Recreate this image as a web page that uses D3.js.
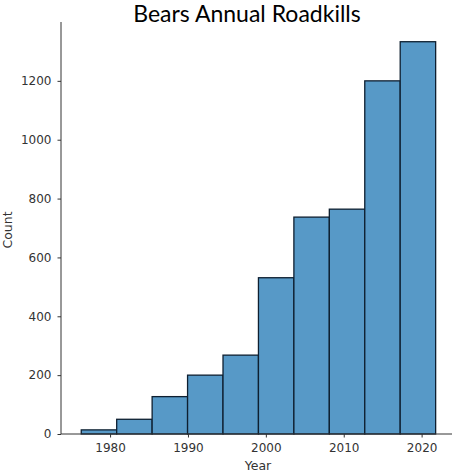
<!DOCTYPE html>
<html>
<head>
<meta charset="utf-8">
<script src="https://cdn.jsdelivr.net/npm/d3@7"></script>
<style>
  body { margin: 0; background: #fff; }
  .tick text { font-family: "DejaVu Sans", sans-serif; font-size: 12px; fill: #333; }
  .tick line { stroke: #333; }
  .domain { stroke: #333; }
</style>
</head>
<body>
<script>
// bin edges (years) and counts per bin
var binStart = 1976.3;
var binWidth = 4.55;
var counts = [14, 50, 127, 200, 268, 531, 737, 764, 1200, 1333];
var xTicks = [1980, 1990, 2000, 2010, 2020];
var yTicks = [0, 200, 400, 600, 800, 1000, 1200];

var bins = counts.map(function(c, i) {
    return { x0: binStart + i * binWidth, x1: binStart + (i + 1) * binWidth, count: c };
});

var svg = d3.select("body").append("svg")
    .attr("width", 474)
    .attr("height", 474);

var x = d3.scaleLinear().domain([1973.7, 2023.9]).range([61, 452]);
var y = d3.scaleLinear().domain([0, 1400]).range([434, 22]);

svg.selectAll("rect.bar")
    .data(bins)
    .enter()
    .append("rect")
    .attr("class", "bar")
    .attr("x", function(d) { return x(d.x0); })
    .attr("width", function(d) { return x(d.x1) - x(d.x0); })
    .attr("y", function(d) { return y(d.count); })
    .attr("height", function(d) { return y(0) - y(d.count); })
    .attr("fill", "#5799c7")
    .attr("stroke", "#0e1f30")
    .attr("stroke-width", 1.3);

svg.append("g")
    .attr("transform", "translate(0,434)")
    .call(d3.axisBottom(x).tickValues(xTicks).tickFormat(d3.format("d")).tickSize(3.5).tickPadding(6))
    .call(function(g) { g.select(".domain").attr("d", "M61,0H452"); });

svg.append("g")
    .attr("transform", "translate(61,0)")
    .call(d3.axisLeft(y).tickValues(yTicks).tickFormat(d3.format("d")).tickSize(3.5).tickPadding(6))
    .call(function(g) { g.select(".domain").attr("d", "M0,22V434"); });

svg.append("text")
    .attr("x", 247)
    .attr("y", 22)
    .attr("text-anchor", "middle")
    .style("font-family", "Lato, sans-serif")
    .style("font-size", "23px")
    .style("fill", "#000")
    .text("Bears Annual Roadkills");

svg.append("text")
    .attr("transform", "translate(12,230) rotate(-90)")
    .attr("text-anchor", "middle")
    .style("font-family", "DejaVu Sans, sans-serif")
    .style("font-size", "12.5px")
    .style("fill", "#333")
    .text("Count");

svg.append("text")
    .attr("x", 258)
    .attr("y", 470)
    .attr("text-anchor", "middle")
    .style("font-family", "DejaVu Sans, sans-serif")
    .style("font-size", "12.5px")
    .style("fill", "#333")
    .text("Year");
</script>
</body>
</html>
